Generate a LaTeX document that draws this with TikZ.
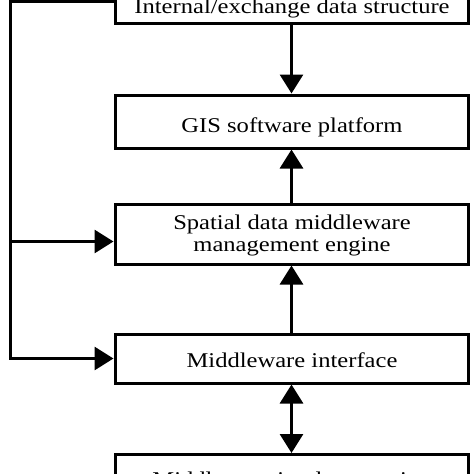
\documentclass[tikz,border=0pt]{standalone}
\usepackage{fontspec}
\setmainfont[FakeStretch=1.17]{Liberation Serif}
\usetikzlibrary{arrows.meta}
\begin{document}
\begin{tikzpicture}[x=1pt,y=-1pt,
  box/.style={draw, line width=3pt, minimum width=353pt, inner sep=0pt},
  lbl/.style={anchor=base, font=\fontsize{21}{22}\selectfont, inner sep=0pt},
  conn/.style={line width=3pt, line join=miter, -{Triangle[width=23pt,length=19pt]}},
  dconn/.style={line width=3pt, {Triangle[width=23pt,length=19pt]}-{Triangle[width=23pt,length=19pt]}},
  ]
\useasboundingbox (0,0) rectangle (474,474);
% boxes
\node[box, minimum height=70pt, anchor=south] (top) at (291.5,25) {};
\node[box, minimum height=53pt] (gis) at (291.5,121.5) {};
\node[box, minimum height=60pt] (sp) at (291.5,234) {};
\node[box, minimum height=49pt] (mi) at (291.5,358.5) {};
\node[box, minimum height=60pt, anchor=north] (bot) at (291.5,453) {};
% texts
\node[lbl] (ttop) at (292,13) {Internal/exchange data structure};
\node[lbl] (tgis) at (292,132) {GIS software platform};
\node[lbl] (tsp1) at (292,229) {Spatial data middleware};
\node[lbl] (tsp2) at (292,251) {management engine};
\node[lbl] (tmi) at (292,367) {Middleware interface};
\node[lbl] (tbot) at (292,486) {Middleware implementation};
% connectors
\draw[conn] (top.south) -- (gis.north);
\draw[conn] (sp.north) -- (gis.south);
\draw[conn] (mi.north) -- (sp.south);
\draw[dconn] (mi.south) -- (bot.north);
\coordinate (c1) at (10,1.5);
\draw[conn] (top.west |- c1) -- (c1) |- (mi.west);
\coordinate (spin) at ([yshift=-7.5pt]sp.west);
\draw[conn] (c1 |- spin) -- (spin);
\end{tikzpicture}
\end{document}
